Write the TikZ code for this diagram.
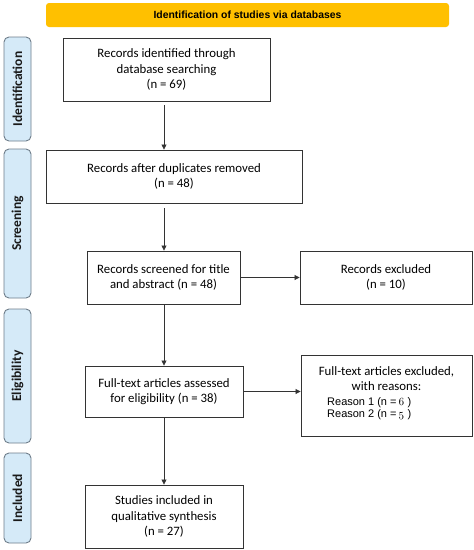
\documentclass[tikz,border=0pt]{standalone}
\usepackage{fontspec}
\setmainfont{Carlito}
\newfontfamily\arialf{Liberation Sans}
\newfontfamily\lmfont{Latin Modern Roman}
\usetikzlibrary{arrows.meta,calc}
\definecolor{bannerY}{HTML}{FFC000}
\definecolor{sideFill}{HTML}{D5EAF8}
\definecolor{sideLine}{HTML}{6E7D8A}
\begin{document}
\begin{tikzpicture}[x=1pt,y=-1pt,
  flowbox/.style={draw=black!80,line width=0.9pt,fill=white,align=center,inner sep=2pt,
    font=\fontsize{12.8}{15.5}\selectfont},
  sidebox/.style={draw=sideLine,fill=sideFill,line width=0.9pt,rounded corners=5pt},
  sidetext/.style={rotate=90,font=\bfseries\fontsize{13.5}{15}\selectfont,text=black!90},
  reason/.style={font=\arialf\fontsize{11}{12}\selectfont,anchor=base west,inner sep=0pt},
  arr/.style={-{Triangle[length=5pt,width=5pt]},line width=0.8pt,black!80}]
\useasboundingbox (0,0) rectangle (474,550);
% banner
\node[fill=bannerY,rounded corners=3pt,minimum width=403pt,minimum height=24pt,
  font=\arialf\bfseries\fontsize{10.4}{12}\selectfont] (banner) at (247.5,15) {Identification of studies via databases};
% side labels
\draw[sidebox] (4,37) rectangle (31,141);
\node[sidetext] (sid) at (17.5,89) {Identification};
\draw[sidebox] (4,149) rectangle (31,298);
\node[sidetext] (sscr) at (17.5,223.5) {Screening};
\draw[sidebox] (4,309) rectangle (31,443);
\node[sidetext] (selig) at (17.5,376) {Eligibility};
\draw[sidebox] (4,453) rectangle (31,543);
\node[sidetext] (sinc) at (17.5,498) {Included};
% boxes
\node[flowbox,minimum width=207pt,minimum height=63pt] (b1) at (166.5,69.5)
  {Records identified through\\database searching\\(n = 69)};
\node[flowbox,minimum width=256pt,minimum height=53pt] (b2) at (174,176.5)
  {Records after duplicates removed\\(n = 48)};
\node[flowbox,minimum width=153pt,minimum height=53pt] (b3) at (163.5,277.5)
  {Records screened for title\\and abstract (n = 48)};
\node[flowbox,minimum width=172pt,minimum height=53pt] (b4) at (386,277.5)
  {Records excluded\\(n = 10)};
\node[flowbox,minimum width=158pt,minimum height=51pt] (b5) at (164,391.5)
  {Full-text articles assessed\\for eligibility (n = 38)};
\node[flowbox,minimum width=171pt,minimum height=81pt] (b6) at (386.5,395.5) {};
\node[font=\fontsize{12.8}{15.5}\selectfont,align=center,anchor=north,inner sep=0pt] (b6t) at (386.5,366)
  {Full-text articles excluded,\\with reasons:};
\node[reason] (r1) at (327,405) {Reason 1 (n =\,{\lmfont\oldstylenums{6}} )};
\node[reason] (r2) at (327,417) {Reason 2 (n =\,{\lmfont\oldstylenums{5}} )};
\node[flowbox,minimum width=158pt,minimum height=63pt] (b7) at (164,516.5)
  {Studies included in\\qualitative synthesis\\(n = 27)};
% arrows
\draw[arr,shorten <=4pt] (b1.south -| b5.center) -- (b2.north -| b5.center);
\draw[arr,shorten <=5pt] (b2.south -| b5.center) -- (b3.north -| b5.center);
\draw[arr] (b3.south -| b5.center) -- (b5.north);
\draw[arr] (b5.south) -- (b7.north);
\draw[arr] (b3.east) -- (b4.west);
\draw[arr] (b5.east) -- (b5.east -| b6.west);
\end{tikzpicture}
\end{document}
